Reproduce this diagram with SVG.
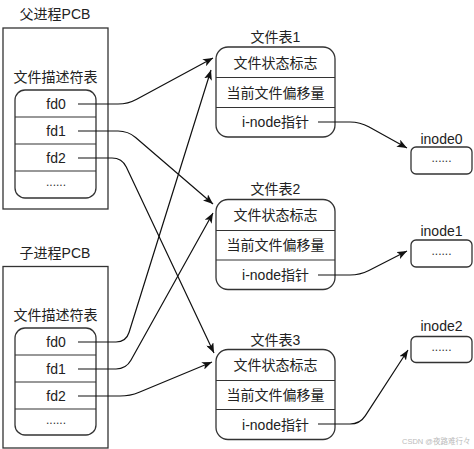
<svg xmlns="http://www.w3.org/2000/svg" width="474" height="449" viewBox="0 0 474 449">
<defs>
<style>
.box{fill:#fff;stroke:#333;stroke-width:1.3}
.ln{fill:none;stroke:#333;stroke-width:1.2}
.t{font-family:"Liberation Sans","Noto Sans CJK SC",sans-serif;font-size:14px;fill:#222;text-anchor:middle;dominant-baseline:central}
.d{font-family:"Liberation Sans",sans-serif;font-size:12px;fill:#333;text-anchor:middle;dominant-baseline:central}
.e{fill:none;stroke:#111;stroke-width:1.2;marker-end:url(#arr)}
.wm{font-family:"Liberation Sans","Noto Sans CJK SC",sans-serif;font-size:7.5px;fill:#bbb}
</style>
<marker id="arr" viewBox="0 0 10 8" markerWidth="10" markerHeight="8" refX="10" refY="4" orient="auto" markerUnits="userSpaceOnUse">
<path d="M0,0 L10,4 L0,8 L2.5,4 Z" fill="#111"/>
</marker>
</defs>

<g id="parent-pcb">
<text class="t" x="55" y="14">父进程PCB</text>
<rect class="box" x="3" y="28" width="105" height="181"/>
<text class="t" x="55.5" y="77">文件描述符表</text>
<rect class="box" x="15" y="90" width="81" height="108" rx="10"/>
<line class="ln" x1="15" y1="117" x2="96" y2="117"/>
<line class="ln" x1="15" y1="144" x2="96" y2="144"/>
<line class="ln" x1="15" y1="171" x2="96" y2="171"/>
<text class="t" x="56" y="103.5">fd0</text>
<text class="t" x="56" y="130.5">fd1</text>
<text class="t" x="56" y="157.5">fd2</text>
<text class="d" x="56" y="182">......</text>
</g>

<g id="child-pcb">
<text class="t" x="55" y="253">子进程PCB</text>
<rect class="box" x="3" y="266.5" width="105" height="181.5"/>
<text class="t" x="55.5" y="315">文件描述符表</text>
<rect class="box" x="15" y="328" width="81" height="107" rx="10"/>
<line class="ln" x1="15" y1="355" x2="96" y2="355"/>
<line class="ln" x1="15" y1="382" x2="96" y2="382"/>
<line class="ln" x1="15" y1="409" x2="96" y2="409"/>
<text class="t" x="56" y="341.5">fd0</text>
<text class="t" x="56" y="368.5">fd1</text>
<text class="t" x="56" y="395.5">fd2</text>
<text class="d" x="56" y="420">......</text>
</g>

<g id="file-table-1">
<text class="t" x="275.5" y="37">文件表1</text>
<rect class="box" x="216" y="47" width="119" height="90" rx="12"/>
<line class="ln" x1="216" y1="77.5" x2="335" y2="77.5"/>
<line class="ln" x1="216" y1="107.5" x2="335" y2="107.5"/>
<text class="t" x="275.5" y="62.5">文件状态标志</text>
<text class="t" x="275.5" y="92.5">当前文件偏移量</text>
<text class="t" x="275.5" y="122">i-node指针</text>
</g>

<g id="file-table-2">
<text class="t" x="275.5" y="189">文件表2</text>
<rect class="box" x="216" y="199.5" width="119" height="90" rx="12"/>
<line class="ln" x1="216" y1="230.5" x2="335" y2="230.5"/>
<line class="ln" x1="216" y1="260" x2="335" y2="260"/>
<text class="t" x="275.5" y="215">文件状态标志</text>
<text class="t" x="275.5" y="245">当前文件偏移量</text>
<text class="t" x="275.5" y="275">i-node指针</text>
</g>

<g id="file-table-3">
<text class="t" x="275.5" y="340">文件表3</text>
<rect class="box" x="216" y="349.5" width="119" height="90" rx="12"/>
<line class="ln" x1="216" y1="380.5" x2="335" y2="380.5"/>
<line class="ln" x1="216" y1="409.5" x2="335" y2="409.5"/>
<text class="t" x="275.5" y="365">文件状态标志</text>
<text class="t" x="275.5" y="395">当前文件偏移量</text>
<text class="t" x="275.5" y="424.5">i-node指针</text>
</g>

<g id="inode0">
<text class="t" x="441.5" y="139">inode0</text>
<rect class="box" x="411" y="147" width="61" height="27" rx="5"/>
<text class="d" x="441.5" y="158">......</text>
</g>
<g id="inode1">
<text class="t" x="441.5" y="231">inode1</text>
<rect class="box" x="411" y="240" width="61" height="27" rx="5"/>
<text class="d" x="441.5" y="251">......</text>
</g>
<g id="inode2">
<text class="t" x="441.5" y="326">inode2</text>
<rect class="box" x="411" y="336.5" width="61" height="26" rx="5"/>
<text class="d" x="441.5" y="347">......</text>
</g>

<g id="connectors">
<path class="e" d="M78,104 L118,104 Q128,104 136.7,99.2 L213,58"/>
<path class="e" d="M78,131 L118,131 Q128,131 135.6,137.5 L213,204"/>
<path class="e" d="M78,158 L112,158 Q122,158 126.3,167 L214,353"/>
<path class="e" d="M78,342 L116,342 Q126,342 129,332.5 L211,70"/>
<path class="e" d="M78,369 L116,369 Q126,369 130.9,360.3 L213,213"/>
<path class="e" d="M78,396 L120,396 Q130,396 139.2,392.2 L212,362"/>
<path class="e" d="M318,122 L350,122 Q360,122 368.7,126.8 L407,148"/>
<path class="e" d="M318,275 L350,275 Q360,275 368.9,270.5 L407,251"/>
<path class="e" d="M318,424 L350,424 Q360,424 365.4,415.6 L408,350"/>
</g>

<text class="wm" x="402" y="444">CSDN @夜路难行々</text>
</svg>
